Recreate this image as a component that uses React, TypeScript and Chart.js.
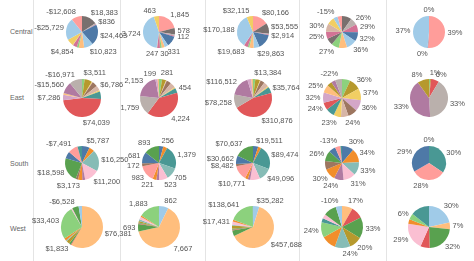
import React, { useEffect, useRef } from "react";
import { Chart, registerables } from "chart.js";

Chart.register(...registerables);

const TABLEAU20 = [
  "#4E79A7", "#A0CBE8", "#F28E2B", "#FFBE7D", "#59A14F", "#8CD17D", "#B6992D", "#F1CE63", "#499894", "#86BCB6",
  "#E15759", "#FF9D9A", "#79706E", "#BAB0AC", "#D37295", "#FABFD2", "#B07AA1", "#D4A6C8", "#9D7660", "#D7B5A6",
];

// Colour is assigned by the state's place in the full alphabetical list.
const ALL_STATES = [
  "Alabama", "Arizona", "Arkansas", "California", "Colorado", "Connecticut", "Delaware", "District of Columbia",
  "Florida", "Georgia", "Idaho", "Illinois", "Indiana", "Iowa", "Kansas", "Kentucky", "Louisiana", "Maine",
  "Maryland", "Massachusetts", "Michigan", "Minnesota", "Mississippi", "Missouri", "Montana", "Nebraska", "Nevada",
  "New Hampshire", "New Jersey", "New Mexico", "New York", "North Carolina", "North Dakota", "Ohio", "Oklahoma",
  "Oregon", "Pennsylvania", "Rhode Island", "South Carolina", "South Dakota", "Tennessee", "Texas", "Utah",
  "Vermont", "Virginia", "Washington", "West Virginia", "Wisconsin", "Wyoming",
];

const regions = ["Central", "East", "South", "West"];

// ---- Central ----
const centralStates = ["Illinois", "Indiana", "Iowa", "Kansas", "Michigan", "Minnesota", "Missouri", "Nebraska", "North Dakota", "Oklahoma", "South Dakota", "Texas", "Wisconsin"];
const centralProfit = [-12608, 18383, 1184, 836, 24463, 10823, 6436, 2037, 230, 4854, 395, -25729, 8402];
const centralQuantity = [1845, 578, 112, 74, 946, 331, 263, 136, 30, 247, 42, 3724, 463];
const centralSales = [80166, 53555, 4580, 2914, 76270, 29863, 22205, 7465, 920, 19683, 1316, 170188, 32115];
const centralRatio = [-0.157, 0.343, 0.258, 0.287, 0.321, 0.362, 0.29, 0.273, 0.25, 0.247, 0.3, -0.151, 0.262];
const centralDiscount = [0.39, 0, 0, 0, 0.004, 0, 0, 0, 0, 0, 0, 0.37, 0];
const centralShown = [
  ["Illinois", "Indiana", "Kansas", "Michigan", "Minnesota", "Oklahoma", "Texas"],
  ["Illinois", "Indiana", "Iowa", "Minnesota", "North Dakota", "Oklahoma", "Texas", "Wisconsin"],
  ["Illinois", "Indiana", "Kansas", "Minnesota", "Oklahoma", "Texas", "Wisconsin"],
  ["Iowa", "Kansas", "Michigan", "Minnesota", "Nebraska", "Oklahoma", "South Dakota", "Texas"],
  ["Illinois", "Indiana", "Texas", "Wisconsin"],
];

// ---- East ----
const eastStates = ["Connecticut", "Delaware", "District of Columbia", "Maine", "Maryland", "Massachusetts", "New Hampshire", "New Jersey", "New York", "Ohio", "Pennsylvania", "Rhode Island", "Vermont", "West Virginia"];
const eastProfit = [3511, 9977, 1060, 454, 7031, 6786, 1707, 9773, 74039, -16971, -15560, 7286, 2245, 186];
const eastQuantity = [281, 367, 40, 35, 420, 491, 104, 454, 4224, 1759, 2153, 199, 109, 18];
const eastSales = [13384, 27451, 2865, 1271, 23706, 28634, 7293, 35764, 310876, 78258, 116512, 22628, 8929, 1210];
const eastRatio = [0.262, 0.363, 0.37, 0.358, 0.297, 0.237, 0.234, 0.273, 0.238, -0.217, -0.134, 0.322, 0.251, 0.154];
const eastDiscount = [0.008, 0.006, 0, 0, 0, 0, 0, 0, 0.055, 0.325, 0.33, 0, 0, 0.08];
const eastShown = [
  ["Connecticut", "Massachusetts", "New York", "Ohio", "Pennsylvania", "Rhode Island"],
  ["Connecticut", "New Jersey", "New York", "Ohio", "Pennsylvania", "Rhode Island"],
  ["Connecticut", "New Jersey", "New York", "Ohio", "Pennsylvania"],
  ["Delaware", "District of Columbia", "Maine", "Massachusetts", "New Hampshire", "New York", "Ohio", "Rhode Island", "Vermont"],
  ["Connecticut", "New York", "Ohio", "Pennsylvania", "West Virginia"],
];

// ---- South ----
const southStates = ["Alabama", "Arkansas", "Florida", "Georgia", "Kentucky", "Louisiana", "Mississippi", "North Carolina", "South Carolina", "Tennessee", "Virginia"];
const southProfit = [5787, 4009, -3399, 16250, 11200, 2196, 3173, -7491, 1769, -5342, 18598];
const southQuantity = [256, 240, 1379, 705, 523, 161, 221, 983, 172, 681, 893];
const southSales = [19511, 11678, 89474, 49096, 36592, 9217, 10771, 55603, 8482, 30662, 70637];
const southRatio = [0.297, 0.343, -0.038, 0.331, 0.306, 0.238, 0.295, -0.135, 0.209, -0.174, 0.263];
const southDiscount = [0, 0, 0.3, 0, 0, 0, 0, 0.28, 0, 0.29, 0];
const southShown = [
  ["Alabama", "Georgia", "Kentucky", "Mississippi", "North Carolina", "Virginia"],
  ["Alabama", "Florida", "Georgia", "Kentucky", "Mississippi", "North Carolina", "South Carolina", "Tennessee", "Virginia"],
  ["Alabama", "Florida", "Georgia", "Mississippi", "South Carolina", "Tennessee", "Virginia"],
  ["Alabama", "Arkansas", "Georgia", "Kentucky", "Louisiana", "Mississippi", "North Carolina", "Virginia"],
  ["Florida", "North Carolina", "Tennessee", "Virginia"],
];

// ---- West ----
const westStates = ["Arizona", "California", "Colorado", "Idaho", "Montana", "Nevada", "New Mexico", "Oregon", "Utah", "Washington", "Wyoming"];
const westProfit = [-3428, 76381, -6528, 827, 1833, 3317, 1157, -1190, 2547, 33403, 100];
const westQuantity = [862, 7667, 693, 64, 64, 146, 150, 263, 125, 1883, 4];
const westSales = [35282, 457688, 32108, 4382, 5589, 16729, 4784, 17431, 11220, 138641, 1603];
const westRatio = [-0.097, 0.167, -0.203, 0.189, 0.328, 0.198, 0.242, -0.068, 0.227, 0.241, 0.063];
const westDiscount = [0.3, 0.073, 0.316, 0.1, 0.0, 0.0, 0.0, 0.29, 0.05, 0.064, 0.2];
const westShown = [
  ["California", "Colorado", "Montana", "Washington"],
  ["Arizona", "California", "Colorado", "Washington"],
  ["Arizona", "California", "Oregon", "Washington"],
  ["Arizona", "California", "Montana", "Nevada", "New Mexico", "Washington"],
  ["Arizona", "California", "Colorado", "Oregon", "Washington"],
];

type Measure = "profit" | "quantity" | "sales" | "ratio" | "discount";
const measures: Measure[] = ["profit", "quantity", "sales", "ratio", "discount"];

const regionData = [
  { states: centralStates, values: [centralProfit, centralQuantity, centralSales, centralRatio, centralDiscount], shown: centralShown },
  { states: eastStates, values: [eastProfit, eastQuantity, eastSales, eastRatio, eastDiscount], shown: eastShown },
  { states: southStates, values: [southProfit, southQuantity, southSales, southRatio, southDiscount], shown: southShown },
  { states: westStates, values: [westProfit, westQuantity, westSales, westRatio, westDiscount], shown: westShown },
];

// Layout
const W = 474;
const H = 261;
const DIVIDER_X = [33, 120, 205, 299, 386];
const PIE_CX = [82, 159, 253, 342, 429];
const PIE_CY = [32, 98, 163, 227];
const ROW_RADIUS = [16, 19, 17, 21];
const LABEL_CY = [31, 97, 163, 228];
const CANVAS_W = 150;
const CANVAS_H = 90;
const LABEL_FONT = "7.5px 'Liberation Sans', Arial, sans-serif";
const LABEL_H = 7;

function fmt(m: Measure, v: number): string {
  if (m === "profit" || m === "sales") {
    const s = "$" + Math.round(Math.abs(v)).toLocaleString("en-US");
    return v < 0 ? "-" + s : s;
  }
  if (m === "quantity") return Math.round(v).toLocaleString("en-US");
  return Math.round(v * 100) + "%";
}

// Positive slices run clockwise from 12 o'clock, negatives follow in reverse order.
function sliceOrder(values: number[]): number[] {
  const idx = values.map((_, i) => i);
  const pos = idx.filter((i) => values[i] >= 0);
  const neg = idx.filter((i) => values[i] < 0).reverse();
  return [...pos, ...neg];
}

// Labels sit just outside each slice: left of the pie they end at the anchor,
// right of it they start there; vertically they slide so the near edge faces the pie.
function labelPlugin(texts: string[]) {
  return {
    id: "sliceLabels",
    afterDatasetsDraw(chart: any) {
      const meta = chart.getDatasetMeta(0);
      const ctx = chart.ctx as CanvasRenderingContext2D;
      ctx.save();
      ctx.font = LABEL_FONT;
      ctx.fillStyle = "#555555";
      ctx.textBaseline = "top";
      meta.data.forEach((arc: any, i: number) => {
        const text = texts[i];
        if (!text) return;
        const p = arc.getProps(["x", "y", "startAngle", "endAngle", "outerRadius"], true);
        const mid = (p.startAngle + p.endAngle) / 2;
        const c = Math.cos(mid);
        const s = Math.sin(mid);
        const r = p.outerRadius + 2.5;
        const ax = p.x + c * r;
        const ay = p.y + s * r;
        ctx.textAlign = c > 0.02 ? "left" : c < -0.02 ? "right" : "center";
        const y = ay + ((s - 1) / 2) * LABEL_H;
        ctx.fillText(text, ax, y);
      });
      ctx.restore();
    },
  };
}

function PieCell(props: { row: number; col: number }) {
  const { row, col } = props;
  const ref = useRef<HTMLCanvasElement>(null);
  const left = Math.round(PIE_CX[col] - CANVAS_W / 2);
  const top = Math.round(PIE_CY[row] - CANVAS_H / 2);

  useEffect(() => {
    const rd = regionData[row];
    const values = rd.values[col];
    const measure = measures[col];
    const shown = rd.shown[col];
    const order = sliceOrder(values);
    const texts = order.map((i) => (shown.includes(rd.states[i]) ? fmt(measure, values[i]) : ""));
    const chart = new Chart(ref.current as HTMLCanvasElement, {
      type: "pie",
      data: {
        labels: order.map((i) => rd.states[i]),
        datasets: [
          {
            data: order.map((i) => Math.abs(values[i])),
            backgroundColor: order.map((i) => TABLEAU20[ALL_STATES.indexOf(rd.states[i]) % 20]),
            borderWidth: 0,
            radius: ROW_RADIUS[row],
          } as any,
        ],
      },
      options: {
        animation: false,
        responsive: false,
        layout: { padding: 0 },
        plugins: { legend: { display: false }, tooltip: { enabled: false } },
      },
      plugins: [labelPlugin(texts)],
    });
    return () => chart.destroy();
  }, [row, col]);

  return (
    <canvas
      ref={ref}
      width={CANVAS_W}
      height={CANVAS_H}
      style={{ position: "absolute", left, top, width: CANVAS_W, height: CANVAS_H }}
    />
  );
}

export default function App() {
  const cells: React.ReactNode[] = [];
  regions.forEach((_, r) => {
    measures.forEach((_, c) => {
      cells.push(<PieCell key={`${r}-${c}`} row={r} col={c} />);
    });
  });
  const dividers = DIVIDER_X.map((x) => (
    <div
      key={`d${x}`}
      style={{ position: "absolute", left: x, top: 0, width: 1, height: H, background: "#e4e4e4" }}
    />
  ));
  return (
    <div
      style={{
        position: "fixed",
        left: 0,
        top: 0,
        width: W,
        height: H,
        background: "#ffffff",
        overflow: "hidden",
        fontFamily: "'Liberation Sans', Arial, sans-serif",
      }}
    >
      {dividers}
      {regions.map((name, r) => (
        <div
          key={name}
          style={{
            position: "absolute",
            left: 10,
            top: LABEL_CY[r] - 6,
            height: 12,
            width: 24,
            display: "flex",
            alignItems: "center",
            fontSize: 7,
            color: "#666666",
          }}
        >
          {name}
        </div>
      ))}
      {cells}
    </div>
  );
}
